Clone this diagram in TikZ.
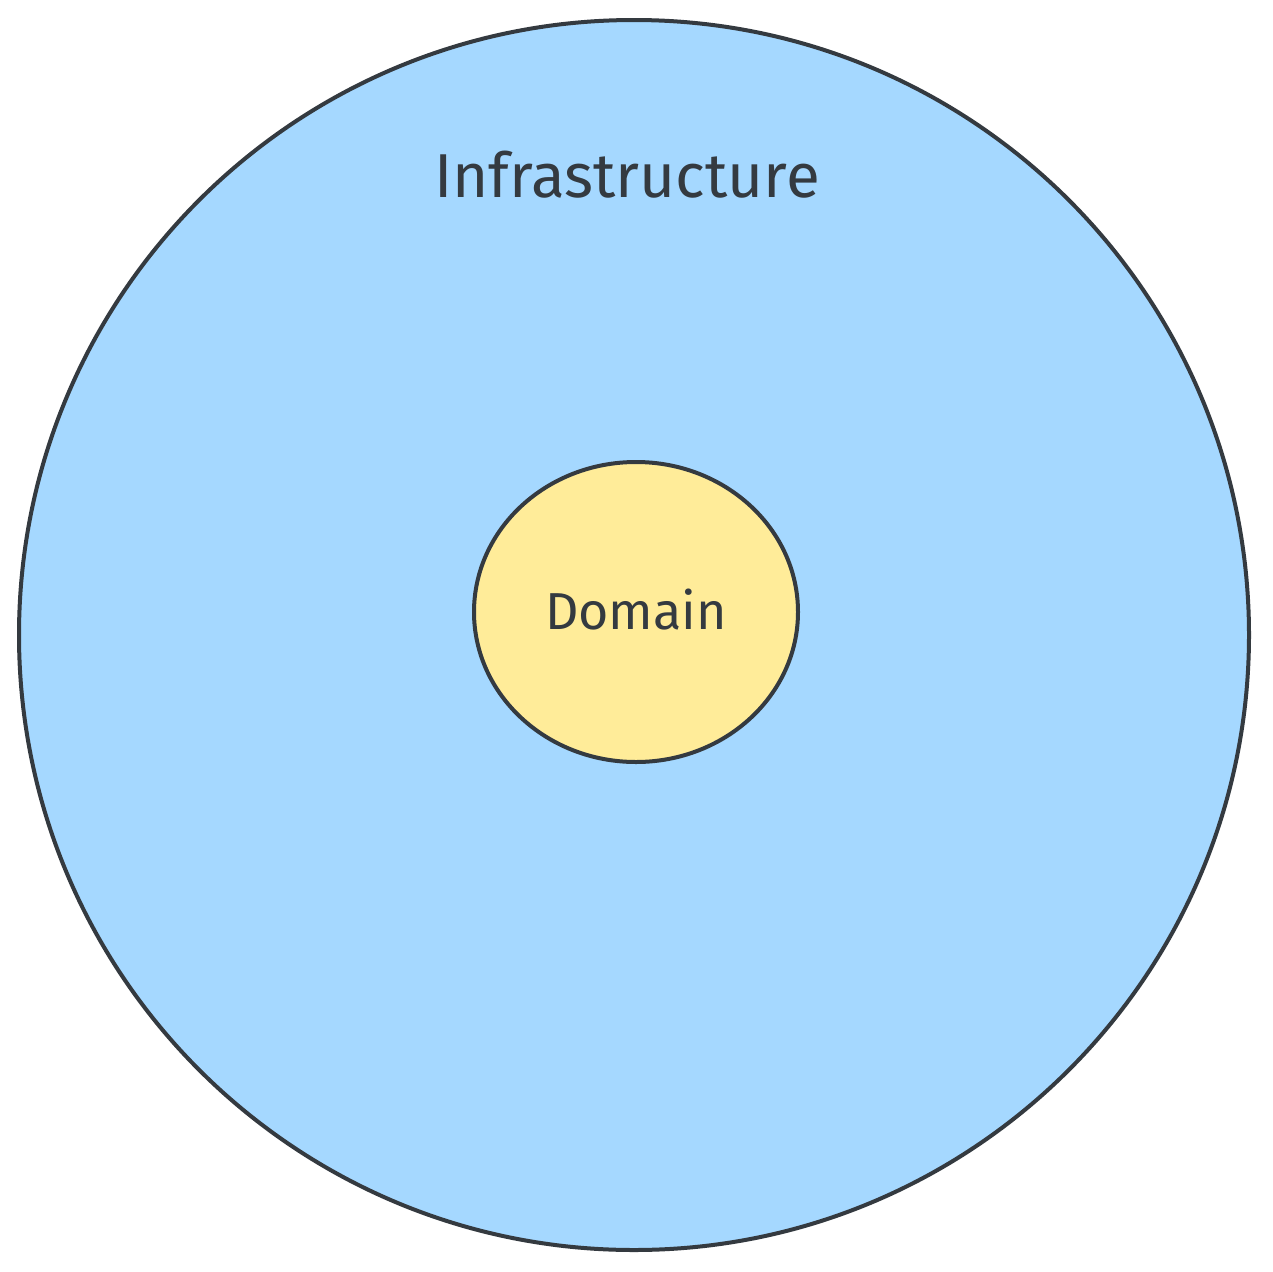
\documentclass[tikz,border=0pt]{standalone}
\usepackage{fontspec}
\setmainfont{Fira Sans}
\definecolor{edgec}{HTML}{343A40}
\definecolor{infra}{HTML}{A5D8FF}
\definecolor{dom}{HTML}{FFEC99}
\begin{document}
\begin{tikzpicture}[x=1pt,y=-1pt,
  lbl/.style={text=edgec},
  rim/.style={draw=edgec,line width=4pt}]
\useasboundingbox (0,0) rectangle (1272,1272);
\fill[infra] (634,635) ellipse [x radius=615, y radius=615];
\draw[rim] (634,635) ellipse [x radius=615, y radius=615];
\node[lbl,font=\fontsize{62}{70}\selectfont] (infra) at (627,175) {Infrastructure};
\fill[dom] (636,612) ellipse [x radius=162, y radius=150];
\draw[rim] (636,612) ellipse [x radius=162, y radius=150];
\node[lbl,font=\fontsize{52}{60}\selectfont] (domain) at (636,610) {Domain};
\end{tikzpicture}
\end{document}
